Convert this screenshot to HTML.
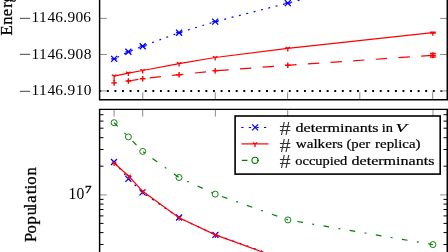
<!DOCTYPE html>
<html><head><meta charset="utf-8"><style>
html,body{margin:0;padding:0;background:#fff;}
body{width:448px;height:252px;overflow:hidden;}
svg{display:block;}
text{font-family:"Liberation Serif","DejaVu Serif",serif;}
</style></head><body>
<svg width="448" height="252" viewBox="0 0 448 252">
<rect width="448" height="252" fill="#fff"/>

<!-- ============ TOP PLOT ============ -->
<g id="top">
  <!-- reference energy dotted -->
  <line x1="99.5" y1="91" x2="447" y2="91" stroke="#000" stroke-width="1.9" stroke-dasharray="1.895 5.685" stroke-dashoffset="0.2"/>
  <!-- blue dotted line -->
  <polyline points="114.1,58.9 128.4,51.8 142.7,46.2 179.1,32.7 215.2,21.6 287.8,3.1 432.8,-34" fill="none" stroke="#00f" stroke-width="1.2" stroke-dasharray="1.895 5.685" stroke-dashoffset="4.03"/>
  <!-- blue x markers -->
  <g stroke="#00f" stroke-width="1.3" fill="none">
    <path d="M111.1,55.9l6,6m0,-6l-6,6M111.1,58.9h6"/>
    <path d="M125.4,48.8l6,6m0,-6l-6,6M125.4,51.8h6"/>
    <path d="M139.7,43.2l6,6m0,-6l-6,6M139.7,46.2h6"/>
    <path d="M176.1,29.7l6,6m0,-6l-6,6M176.1,32.7h6"/>
    <path d="M212.2,18.6l6,6m0,-6l-6,6M212.2,21.6h6"/>
    <path d="M284.8,0.1l6,6m0,-6l-6,6M284.8,3.1h6"/>
  </g>
  <!-- red solid -->
  <polyline points="114.1,76.1 128.4,73.1 142.7,70.5 179.1,63.6 215.2,57.5 287.8,48.4 432.8,32.7" fill="none" stroke="#f00" stroke-width="1.2"/>
  <!-- red tri_down markers -->
  <g stroke="#f00" stroke-width="1.3" fill="none">
    <path d="M114.1,76.1v5M114.1,76.1l-2.3,-1.25M114.1,76.1l2.3,-1.25"/>
    <path d="M128.4,73.1v3M128.4,73.1l-2.3,-1.25M128.4,73.1l2.3,-1.25"/>
    <path d="M142.7,70.5v3M142.7,70.5l-2.3,-1.25M142.7,70.5l2.3,-1.25"/>
    <path d="M179.1,63.6v3M179.1,63.6l-2.3,-1.25M179.1,63.6l2.3,-1.25"/>
    <path d="M215.2,57.5v3M215.2,57.5l-2.3,-1.25M215.2,57.5l2.3,-1.25"/>
    <path d="M287.8,48.4v3M287.8,48.4l-2.3,-1.25M287.8,48.4l2.3,-1.25"/>
    <path d="M432.8,32.4v3.3M430,32.1h5.8M430,33.1h5.8"/>
  </g>
  <!-- red dashed -->
  <polyline points="114.1,82.9 128.4,81.0 142.7,78.7 179.1,74.7 215.2,70.8 287.8,65.3 432.8,55.3" fill="none" stroke="#f00" stroke-width="1.2" stroke-dasharray="11.35 11.35" stroke-dashoffset="9.5"/>
  <g stroke="#f00" stroke-width="1.4" fill="none">
    <path d="M111.3,82.9h5.6M114.1,80.1v5.6"/>
    <path d="M125.6,81.0h5.6M128.4,78.2v5.6"/>
    <path d="M139.9,78.7h5.6M142.7,75.9v5.6"/>
    <path d="M176.3,74.7h5.6M179.1,71.9v5.6"/>
    <path d="M212.4,70.8h5.6M215.2,68.0v5.6"/>
    <path d="M285.0,65.3h5.6M287.8,62.5v5.6"/>
    <path d="M430.0,53.4h5.8M430.0,55.2h5.8M430.0,57.0h5.8M432.8,52.3v6.0"/>
  </g>
  <!-- ticks -->
  <g stroke="#8c8c8c" stroke-width="1">
    <path d="M100,18.4h6.9M100,54.5h6.9M100,90.9h6.9"/>
    <path d="M447,18.4h-6.9M447,54.5h-6.9M447,90.9h-6.9"/>
    <path d="M142.8,99.5v-7.2M215.3,99.5v-7.2M287.6,99.5v-7.2M359.8,99.5v-7.2M432.7,99.5v-7.2"/>
  </g>
  <!-- frame -->
  <path d="M99.6,-2V99.7M447.25,-2V99.7" fill="none" stroke="#000" stroke-width="1.45"/>
  <path d="M98.9,99.7H448" fill="none" stroke="#000" stroke-width="1.35"/>
</g>

<!-- ============ BOTTOM PLOT ============ -->
<g id="bot">
  <!-- blue dotted -->
  <polyline points="114.0,162.0 128.1,178.2 142.4,192.4 179.2,217.9 215.4,234.7 287.8,260.4" fill="none" stroke="#00f" stroke-width="1.2" stroke-dasharray="1.895 5.685" stroke-dashoffset="7.3"/>
  <g stroke="#00f" stroke-width="1.3" fill="none">
    <path d="M111,159l6,6m0,-6l-6,6"/>
    <path d="M125.4,175.9l6,6m0,-6l-6,6"/>
    <path d="M139.5,189.4l6,6m0,-6l-6,6"/>
    <path d="M176.1,214.5l6,6m0,-6l-6,6"/>
    <path d="M212.4,231.9l6,6m0,-6l-6,6"/>
  </g>
  <!-- red solid -->
  <polyline points="114.1,163.0 128.6,176.0 142.7,191.3 179.1,217.7 215.4,234.9 287.8,261.2" fill="none" stroke="#f00" stroke-width="1.2"/>
  <g stroke="#f00" stroke-width="1.3" fill="none">
    <path d="M114.1,163v3M114.1,163l-2.3,-1.25M114.1,163l2.3,-1.25"/>
    <path d="M128.6,176.0v3M128.6,176.0l-2.3,-1.25M128.6,176.0l2.3,-1.25"/>
    <path d="M142.7,191.3v3M142.7,191.3l-2.3,-1.25M142.7,191.3l2.3,-1.25"/>
    <path d="M179.1,217.7v3M179.1,217.7l-2.3,-1.25M179.1,217.7l2.3,-1.25"/>
    <path d="M215.4,234.9v3M215.4,234.9l-2.3,-1.25M215.4,234.9l2.3,-1.25"/>
  </g>
  <!-- green dash-dot -->
  <polyline points="114.1,122.7 128.4,136.9 142.7,151.4 179.0,177.5 215.2,194.1 287.9,219.9 432.9,244.6" fill="none" stroke="#008000" stroke-width="1.2" stroke-dasharray="5.685 9.475 1.895 9.475" stroke-dashoffset="0.5"/>
  <g stroke="#008000" stroke-width="0.95" fill="none">
    <circle cx="114.1" cy="122.7" r="3.0"/>
    <circle cx="128.4" cy="136.9" r="3.0"/>
    <circle cx="142.7" cy="151.4" r="3.0"/>
    <circle cx="179.0" cy="177.5" r="3.0"/>
    <circle cx="215.2" cy="194.1" r="3.0"/>
    <circle cx="287.9" cy="219.9" r="3.0"/>
    <circle cx="432.9" cy="244.6" r="3.0"/>
  </g>
  <!-- ticks -->
  <g stroke="#8c8c8c" stroke-width="1">
    <path d="M114.1,109.5v7.1M142.7,109.5v7.1M215.4,109.5v7.1M287.7,109.5v7.1M433,109.5v7.1"/>
    <path d="M100,194.9h6.8M447,194.9h-6.8"/>
  </g>
  <g stroke="#000" stroke-width="1">
    <path d="M100,114.7h3.5M100,121.1h3.5M100,128.2h3.5M100,137.7h3.5M100,149.5h3.5M100,166.2h3.5M100,199.4h3.5M100,204.1h3.5M100,209.5h3.5M100,215.9h3.5M100,223.4h3.5M100,232.6h3.5M100,244.5h3.5"/>
    <path d="M447,114.7h-3.5M447,121.1h-3.5M447,128.2h-3.5M447,137.7h-3.5M447,149.5h-3.5M447,166.2h-3.5M447,199.4h-3.5M447,204.1h-3.5M447,209.5h-3.5M447,215.9h-3.5M447,223.4h-3.5M447,232.6h-3.5M447,244.5h-3.5"/>
  </g>
  <!-- frame -->
  <path d="M99.6,260V109.4M447.25,260V109.4" fill="none" stroke="#000" stroke-width="1.45"/>
  <path d="M98.9,109.4H448" fill="none" stroke="#000" stroke-width="1.2"/>
  <!-- legend -->
  <rect x="235.1" y="116" width="205.1" height="58.1" fill="#fff" stroke="#000" stroke-width="1.6"/>
  <line x1="241.2" y1="127.4" x2="268.5" y2="127.4" stroke="#00f" stroke-width="1.05" stroke-dasharray="2.3 5.28"/>
  <path d="M252.1,124.4l6,6m0,-6l-6,6" stroke="#00f" stroke-width="1.3"/>
  <line x1="241.5" y1="143.9" x2="268.5" y2="143.9" stroke="#f00" stroke-width="1.2"/>
  <path d="M255,143.9v3M255,143.9l-2.3,-1.25M255,143.9l2.3,-1.25" stroke="#f00" stroke-width="1.3" fill="none"/>
  <line x1="241.8" y1="160.3" x2="266" y2="160.3" stroke="#008000" stroke-width="1.2" stroke-dasharray="5.685 9.475 1.895 9.475"/>
  <circle cx="255" cy="160.3" r="3.1" stroke="#008000" stroke-width="1.1" fill="none"/>
  <g font-size="13.5" stroke="#000" stroke-width="0.22">
    <text x="279.4" y="135" font-size="18" textLength="11.2" lengthAdjust="spacingAndGlyphs" fill="#333" stroke="none">#</text>
    <text x="295.5" y="131.9" textLength="83" lengthAdjust="spacingAndGlyphs">determinants</text>
    <text x="381.8" y="131.9" textLength="11.2" lengthAdjust="spacingAndGlyphs">in</text>
    <text x="395.5" y="131.9" font-style="italic" textLength="11.4" lengthAdjust="spacingAndGlyphs">V</text>
    <text x="279.4" y="151.5" font-size="18" textLength="11.2" lengthAdjust="spacingAndGlyphs" fill="#333" stroke="none">#</text>
    <text x="295.8" y="148.4" textLength="47.0" lengthAdjust="spacingAndGlyphs">walkers</text>
    <text x="346.4" y="148.4" textLength="23.8" lengthAdjust="spacingAndGlyphs">(per</text>
    <text x="375.1" y="148.4" textLength="45.4" lengthAdjust="spacingAndGlyphs">replica)</text>
    <text x="279.4" y="168" font-size="18" textLength="11.2" lengthAdjust="spacingAndGlyphs" fill="#333" stroke="none">#</text>
    <text x="295.3" y="164.9" textLength="52" lengthAdjust="spacingAndGlyphs">occupied</text>
    <text x="351.5" y="164.9" textLength="83" lengthAdjust="spacingAndGlyphs">determinants</text>
  </g>
</g>

<!-- ============ LABELS ============ -->
<g font-size="15">
  <text x="18.5" y="23.1" textLength="12.4" lengthAdjust="spacingAndGlyphs">−</text>
  <text x="31.48 38.98 47.47 55.25 63.28 67.52 75.50 83.35" y="22.3" font-size="15.4">1146.906</text>
  <text x="18.5" y="58.5" textLength="12.4" lengthAdjust="spacingAndGlyphs">−</text>
  <text x="31.48 38.98 47.47 55.25 63.28 67.52 75.55 83.75" y="58.7" font-size="15.4">1146.908</text>
  <text x="18.5" y="95.7" textLength="12.4" lengthAdjust="spacingAndGlyphs">−</text>
  <text x="31.48 38.98 47.47 55.25 63.28 67.52 75.83 83.65" y="94.5" font-size="15.4">1146.910</text>
  <text x="68.6" y="199.1" font-size="16" textLength="15.6" lengthAdjust="spacingAndGlyphs">10</text>
  <text x="85.1" y="192.7" font-size="10" textLength="6.5" lengthAdjust="spacingAndGlyphs" stroke="#000" stroke-width="0.35">7</text>
</g>
<text transform="translate(11.9,35.9) rotate(-90)" font-size="16.6" stroke="#000" stroke-width="0.3" x="0.45 11.13 19.63 28.14 33.49 41.8">Energy</text>
<text transform="translate(35.5,242.4) rotate(-90)" font-size="16.6" stroke="#000" stroke-width="0.3" x="0.48 8.95 17.94 27.13 34.04 39.69 48.11 52.83 57.75 66.93">Population</text>
</svg>
</body></html>
